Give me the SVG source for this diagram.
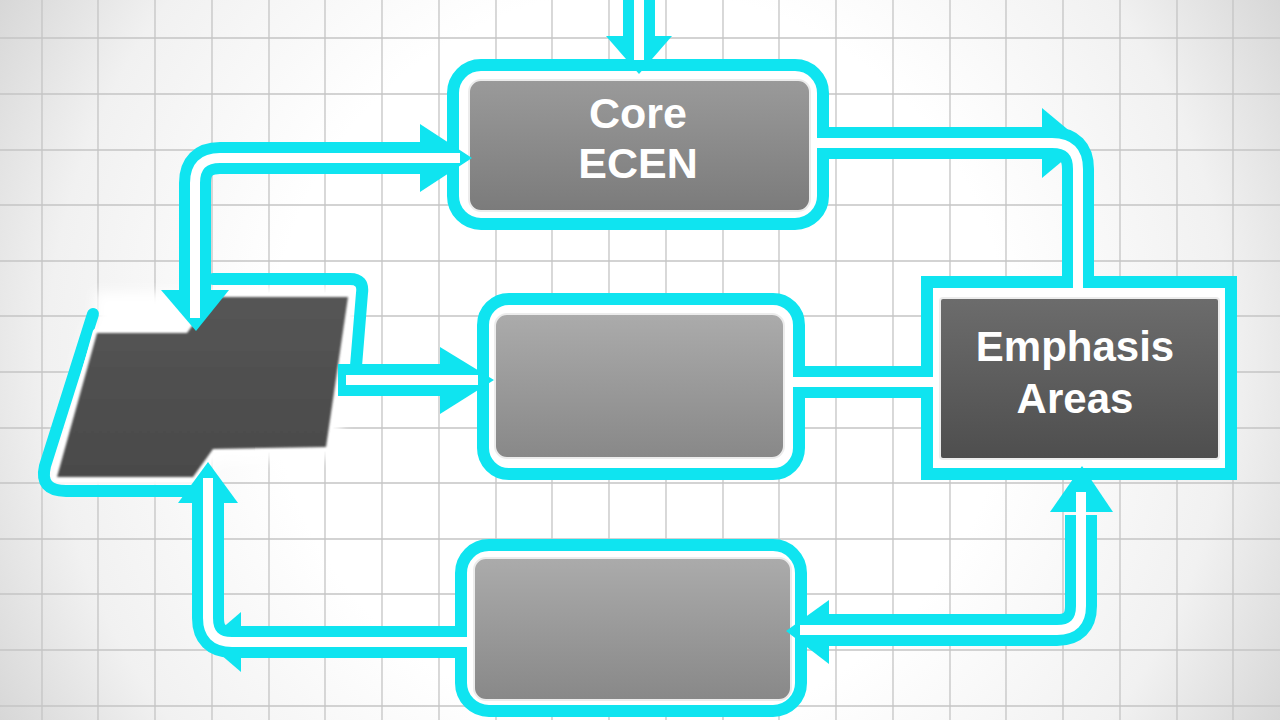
<svg xmlns="http://www.w3.org/2000/svg" width="1280" height="720" viewBox="0 0 1280 720">
<defs>
<radialGradient id="bg" gradientUnits="userSpaceOnUse" cx="640" cy="360" r="740">
<stop offset="0.5" stop-color="#ffffff"/>
<stop offset="0.8" stop-color="#f1f1f1"/>
<stop offset="1" stop-color="#d6d6d6"/>
</radialGradient>
<linearGradient id="gCore" x1="0" y1="0" x2="0" y2="1">
<stop offset="0" stop-color="#9a9a9a"/><stop offset="1" stop-color="#7b7b7b"/>
</linearGradient>
<linearGradient id="gLight" x1="0" y1="0" x2="0" y2="1">
<stop offset="0" stop-color="#ababab"/><stop offset="1" stop-color="#888888"/>
</linearGradient>
<linearGradient id="gDark" x1="0" y1="0" x2="0" y2="1">
<stop offset="0" stop-color="#6c6c6c"/><stop offset="1" stop-color="#4e4e4e"/>
</linearGradient>
<linearGradient id="gLeft" x1="0" y1="0" x2="0" y2="1">
<stop offset="0" stop-color="#555555"/><stop offset="1" stop-color="#4a4a4a"/>
</linearGradient>
<filter id="blur" x="-20%" y="-20%" width="140%" height="140%">
<feGaussianBlur stdDeviation="6"/>
</filter>
<filter id="soft" x="-5%" y="-5%" width="110%" height="110%">
<feGaussianBlur stdDeviation="1.2"/>
</filter>
</defs>
<style>
.grid line{stroke:#c4c4c4;stroke-width:1.3}
.outline{fill:#ffffff;stroke:#0fe4f0;stroke-width:12}
.body{stroke:#ececec;stroke-width:2}
.lbl{font-family:"Liberation Sans",Arial,sans-serif;font-weight:bold;fill:#ffffff;text-anchor:middle}
.cy{fill:none;stroke:#0fe4f0;stroke-width:32;stroke-linejoin:round}
.wh{fill:none;stroke:#ffffff;stroke-width:10;stroke-linejoin:round}
.head{fill:#0fe4f0}
.cyl{fill:none;stroke:#0fe4f0;stroke-width:12;stroke-linecap:round;stroke-linejoin:round}
</style>

<rect width="1280" height="720" fill="url(#bg)"/>
<g class="grid">
<line x1="42" y1="0" x2="42" y2="720"/><line x1="98" y1="0" x2="98" y2="720"/><line x1="155" y1="0" x2="155" y2="720"/><line x1="212" y1="0" x2="212" y2="720"/><line x1="269" y1="0" x2="269" y2="720"/><line x1="325" y1="0" x2="325" y2="720"/><line x1="382" y1="0" x2="382" y2="720"/><line x1="439" y1="0" x2="439" y2="720"/><line x1="496" y1="0" x2="496" y2="720"/><line x1="552" y1="0" x2="552" y2="720"/><line x1="609" y1="0" x2="609" y2="720"/><line x1="666" y1="0" x2="666" y2="720"/><line x1="723" y1="0" x2="723" y2="720"/><line x1="779" y1="0" x2="779" y2="720"/><line x1="836" y1="0" x2="836" y2="720"/><line x1="893" y1="0" x2="893" y2="720"/><line x1="950" y1="0" x2="950" y2="720"/><line x1="1006" y1="0" x2="1006" y2="720"/><line x1="1063" y1="0" x2="1063" y2="720"/><line x1="1120" y1="0" x2="1120" y2="720"/><line x1="1177" y1="0" x2="1177" y2="720"/><line x1="1233" y1="0" x2="1233" y2="720"/>
<line x1="0" y1="38" x2="1280" y2="38"/><line x1="0" y1="94" x2="1280" y2="94"/><line x1="0" y1="150" x2="1280" y2="150"/><line x1="0" y1="205" x2="1280" y2="205"/><line x1="0" y1="261" x2="1280" y2="261"/><line x1="0" y1="316" x2="1280" y2="316"/><line x1="0" y1="372" x2="1280" y2="372"/><line x1="0" y1="428" x2="1280" y2="428"/><line x1="0" y1="483" x2="1280" y2="483"/><line x1="0" y1="539" x2="1280" y2="539"/><line x1="0" y1="594" x2="1280" y2="594"/><line x1="0" y1="650" x2="1280" y2="650"/><line x1="0" y1="706" x2="1280" y2="706"/>
</g>

<g id="node-core">
<rect class="outline" x="453" y="65" width="370" height="159" rx="28"/>
<rect class="body" x="469" y="80" width="341" height="131" rx="12" fill="url(#gCore)"/>
<text class="lbl" x="638" y="128" font-size="43">Core</text>
<text class="lbl" x="638" y="178" font-size="43">ECEN</text>
</g>

<g id="node-middle">
<rect class="outline" x="483" y="299" width="316" height="175" rx="26"/>
<rect class="body" x="495" y="314" width="289" height="144" rx="12" fill="url(#gLight)"/>
</g>

<g id="node-bottom">
<rect class="outline" x="461" y="545" width="340" height="166" rx="28"/>
<rect class="body" x="474" y="558" width="317" height="142" rx="12" fill="url(#gLight)"/>
</g>

<g id="node-emphasis">
<rect class="outline" x="927" y="282" width="304" height="192" stroke-width="13"/>
<rect class="body" x="940" y="298" width="279" height="161" rx="3" fill="url(#gDark)"/>
<text class="lbl" x="1075" y="361" font-size="42">Emphasis</text>
<text class="lbl" x="1075" y="413" font-size="42">Areas</text>
</g>

<g id="node-left">
<polygon points="97,333 187,333 213,297 348,297 326,447 213,449 193,477 57,477" fill="#ffffff" stroke="#ffffff" stroke-width="24" stroke-linejoin="round" filter="url(#blur)"/>
<rect x="95" y="292" width="100" height="45" fill="#ffffff" filter="url(#blur)"/>
<path class="cyl" d="M 93 314 L 45 466 Q 39 491 66 491 H 196"/>
<path class="cyl" d="M 213 279 H 350 Q 364 279 362 293 L 356 366"/>
<polygon points="97,333 187,333 213,297 348,297 326,447 213,449 193,477 57,477" fill="#ffffff" stroke="#ffffff" stroke-width="9" stroke-linejoin="round"/>
<polygon points="97,333 187,333 213,297 348,297 326,447 213,449 193,477 57,477" fill="url(#gLeft)" stroke-linejoin="round" filter="url(#soft)"/>
</g>

<g id="connectors">
<path class="cy" d="M 639 -10 V 40"/>
<path class="cy" d="M 195 292 V 183 Q 195 158 220 158 H 440"/>
<path class="cy" d="M 822 143 H 1052 Q 1078 143 1078 169 V 284"/>
<path class="cy" d="M 799 382 H 927" stroke-width="38"/>
<path class="cy" d="M 338 380 H 450"/>
<path class="cy" d="M 1081 515 V 606 Q 1081 630 1057 630 H 825"/>
<path class="cy" d="M 461 642 H 232 Q 208 642 208 618 V 500"/>

<polygon class="head" points="606,36 672,36 639,74"/>
<polygon class="head" points="420,124 472,158 420,192"/>
<polygon class="head" points="161,290 229,290 196,331"/>
<polygon class="head" points="1042,108 1084,143 1042,178"/>
<polygon class="head" points="440,347 494,380 440,414"/>
<polygon class="head" points="1050,512 1113,512 1082,466"/>
<polygon class="head" points="829,600 786,631 829,664"/>
<polygon class="head" points="178,503 238,503 208,462"/>
<polygon class="head" points="241,612 206,642 241,672"/>

<path class="wh" d="M 639 -10 V 60"/>
<path class="wh" d="M 195 318 V 183 Q 195 158 220 158 H 460"/>
<path class="wh" d="M 816 143 H 1052 Q 1078 143 1078 169 V 296"/>
<path class="wh" d="M 792 382 H 934" stroke-width="14"/>
<path class="wh" d="M 346 380 H 478"/>
<path class="wh" d="M 1081 492 V 606 Q 1081 630 1057 630 H 800"/>
<path class="wh" d="M 468 642 H 232 Q 208 642 208 618 V 478"/>
</g>
</svg>
